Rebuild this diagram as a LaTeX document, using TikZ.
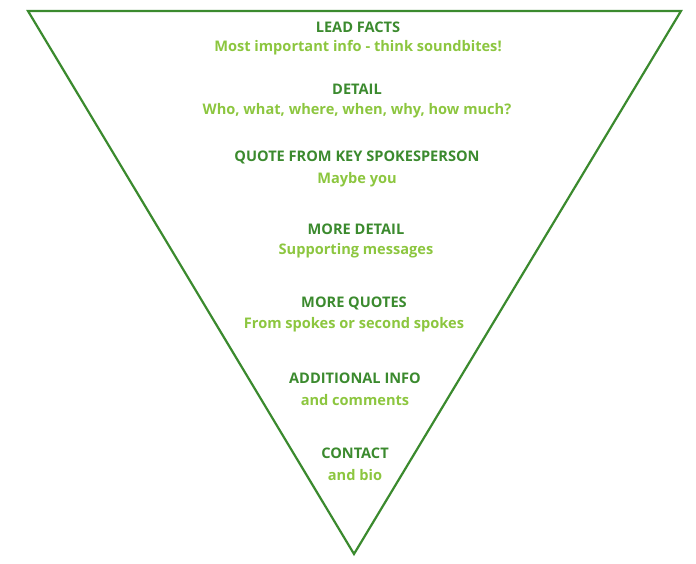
\documentclass[tikz,border=0pt]{standalone}
\usepackage{fontspec}
\setmainfont{Open Sans}
\definecolor{dk}{HTML}{3B8A2E}
\definecolor{lt}{HTML}{8CC63F}
\begin{document}
\begin{tikzpicture}[x=1pt,y=-1pt,
  hd/.style={text=dk,font=\bfseries\fontsize{14.6}{16}\selectfont,inner sep=0pt},
  sb/.style={text=lt,font=\bfseries\fontsize{14.6}{16}\selectfont,inner sep=0pt}]
\useasboundingbox (0,0) rectangle (696,564);
\coordinate (tl) at (28,11);
\coordinate (tr) at (681,11);
\coordinate (bt) at (354,554);
\draw[dk,line width=2.2pt,line join=miter] (tl) -- (tr) -- (bt) -- cycle;
\node[hd] (h1) at (358,27) {LEAD FACTS};
\node[sb] (s1) at (358,48) {Most important info - think soundbites!};
\node[hd] (h2) at (357,89) {DETAIL};
\node[sb] (s2) at (357,111) {Who, what, where, when, why, how much?};
\node[hd] (h3) at (357,157) {QUOTE FROM KEY SPOKESPERSON};
\node[sb] (s3) at (357,180) {Maybe you};
\node[hd] (h4) at (356,229) {MORE DETAIL};
\node[sb] (s4) at (356,251) {Supporting messages};
\node[hd] (h5) at (354,303) {MORE QUOTES};
\node[sb] (s5) at (354,325) {From spokes or second spokes};
\node[hd] (h6) at (355,378) {ADDITIONAL INFO};
\node[sb] (s6) at (355,400) {and comments};
\node[hd] (h7) at (355,453) {CONTACT};
\node[sb] (s7) at (355,475) {and bio};
\end{tikzpicture}
\end{document}
